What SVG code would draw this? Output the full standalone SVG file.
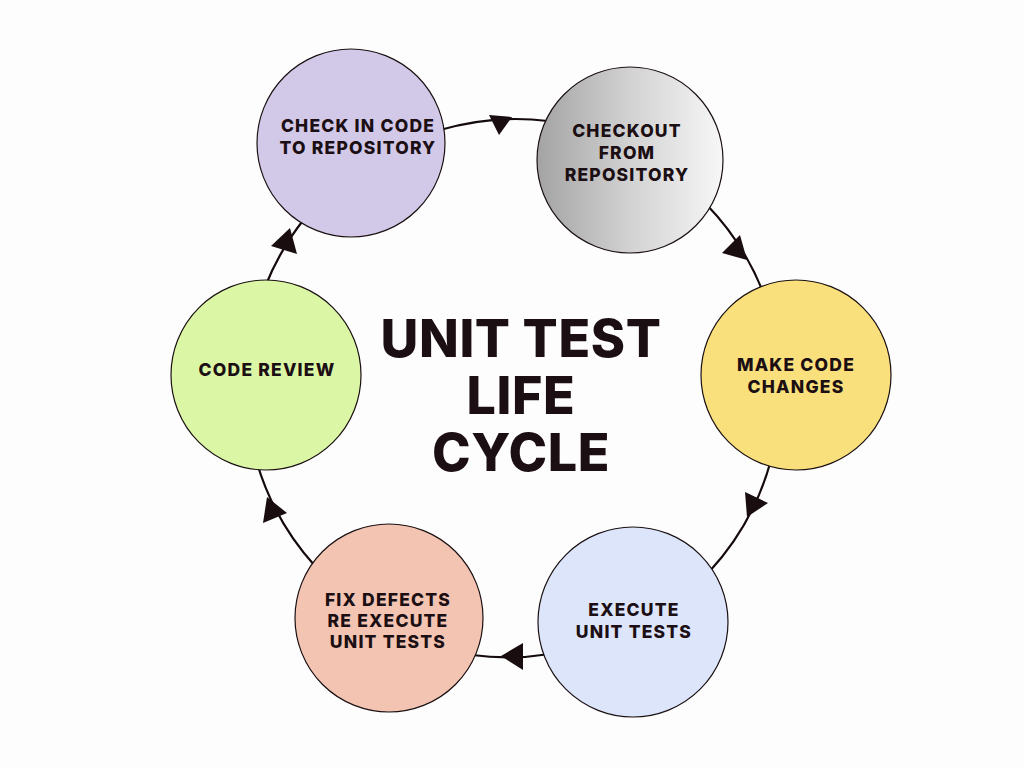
<svg xmlns="http://www.w3.org/2000/svg" width="1024" height="768" viewBox="0 0 1024 768">
  <defs>
    <linearGradient id="gray" x1="0" y1="0" x2="1" y2="0">
      <stop offset="0" stop-color="#a3a3a3"/>
      <stop offset="0.5" stop-color="#d2d2d2"/>
      <stop offset="1" stop-color="#f7f7f7"/>
    </linearGradient>
  </defs>
  <style>
    .node { stroke: #1a1012; stroke-width: 1.2; }
    .lbl { font-family: Inter, "Liberation Sans", sans-serif; font-weight: 800; font-size: 17.5px; letter-spacing: 1.2px; fill: #1c0f13; text-anchor: middle; }
    .title { font-family: Inter, "Liberation Sans", sans-serif; font-weight: 800; font-size: 52px; letter-spacing: 0.6px; fill: #1c0f13; text-anchor: middle; }
    .conn { fill: none; stroke: #140a0c; stroke-width: 2.2; }
    .head { fill: #1a0d10; }
  </style>
  <rect width="1024" height="768" fill="#fefdfd"/>

  <g id="connectors">
    <path class="conn" d="M440,130 A268,268 0 0 1 548,121"/>
    <path class="conn" d="M706,204 A268,268 0 0 1 763,292"/>
    <path class="conn" d="M771,460 A268,268 0 0 1 709,572"/>
    <path class="conn" d="M550,654 A268,268 0 0 1 472,655"/>
    <path class="conn" d="M315,566 A268,268 0 0 1 257,463"/>
    <path class="conn" d="M265,287 A268,268 0 0 1 305,218"/>
    <polygon class="head" points="489,115 512,117 499,135"/>
    <polygon class="head" points="740,235 722,253 747,260"/>
    <polygon class="head" points="745,492 768,503 747,517"/>
    <polygon class="head" points="523,643 501,656 523,670"/>
    <polygon class="head" points="267,497 287,513 263,523"/>
    <polygon class="head" points="290,228 271,246 297,254"/>
  </g>

  <g id="node-checkin">
    <circle class="node" cx="351" cy="143" r="94" fill="#d1c9e7"/>
    <text class="lbl" x="358" y="132">CHECK IN CODE</text>
    <text class="lbl" x="358" y="154">TO REPOSITORY</text>
  </g>
  <g id="node-checkout">
    <circle class="node" cx="630" cy="160" r="93" fill="url(#gray)"/>
    <text class="lbl" x="627" y="137">CHECKOUT</text>
    <text class="lbl" x="627" y="159">FROM</text>
    <text class="lbl" x="627" y="181">REPOSITORY</text>
  </g>
  <g id="node-make">
    <circle class="node" cx="796" cy="375" r="95" fill="#f9e07c"/>
    <text class="lbl" x="796" y="371">MAKE CODE</text>
    <text class="lbl" x="796" y="393">CHANGES</text>
  </g>
  <g id="node-execute">
    <circle class="node" cx="633" cy="622" r="95" fill="#dde5fb"/>
    <text class="lbl" x="634" y="616">EXECUTE</text>
    <text class="lbl" x="634" y="638">UNIT TESTS</text>
  </g>
  <g id="node-fix">
    <circle class="node" cx="389" cy="618" r="94" fill="#f2c4b1"/>
    <text class="lbl" x="388" y="606">FIX DEFECTS</text>
    <text class="lbl" x="388" y="627">RE EXECUTE</text>
    <text class="lbl" x="388" y="648">UNIT TESTS</text>
  </g>
  <g id="node-review">
    <circle class="node" cx="266" cy="375" r="95" fill="#dbf7a6"/>
    <text class="lbl" x="267" y="376">CODE REVIEW</text>
  </g>

  <g id="title">
    <text class="title" x="521" y="357">UNIT TEST</text>
    <text class="title" x="521" y="414">LIFE</text>
    <text class="title" x="521" y="471">CYCLE</text>
  </g>
</svg>
